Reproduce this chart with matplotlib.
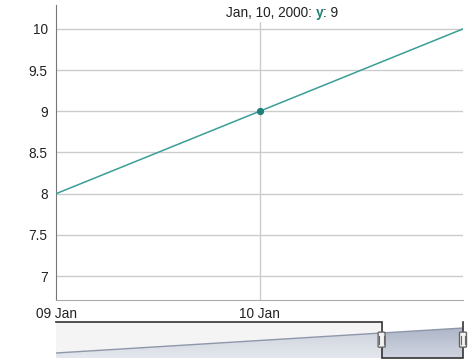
import numpy as np
import matplotlib
matplotlib.use("Agg")
import matplotlib.pyplot as plt
import matplotlib.dates as mdates
from matplotlib.patches import FancyBboxPatch
from matplotlib.colors import LinearSegmentedColormap
import matplotlib.transforms as mtrans
from datetime import datetime

plt.rcParams['font.family'] = ['Liberation Sans', 'DejaVu Sans']

# Daten
dates = [datetime(2000, 1, d) for d in range(1, 12)]
values = [0, 1, 2, 3, 4, 5, 6, 7, 8, 9, 10]
view_start = datetime(2000, 1, 9)
view_end = datetime(2000, 1, 11)
hover_date = datetime(2000, 1, 10)
hover_value = 9
y_ticks = [7, 7.5, 8, 8.5, 9, 9.5, 10]
y_labels = ['7', '7.5', '8', '8.5', '9', '9.5', '10']
x_ticks = [datetime(2000, 1, 9), datetime(2000, 1, 10)]
x_labels = ['09 Jan', '10 Jan']

line_col = '#3a9e96'
W, H = 474, 362
fig = plt.figure(figsize=(W / 100, H / 100), dpi=100)

# Hauptdiagramm
ax = fig.add_axes([56 / W, (H - 300) / H, (463 - 56) / W, (300 - 5) / H])
ax.plot(dates, values, color=line_col, lw=1.1, zorder=3)
ax.axvline(hover_date, color='#cccccc', lw=1, zorder=2)
ax.plot([hover_date], [hover_value], 'o', color='#1f7f78', ms=4.2, zorder=4)
ax.set_xlim(view_start, view_end)
ax.set_ylim(6.71, 10.29)
ax.set_yticks(y_ticks)
ax.set_yticklabels(y_labels)
ax.set_xticks(x_ticks)
ax.set_xticklabels(x_labels)
ax.grid(axis='y', color='#cccccc', lw=1)
ax.set_axisbelow(True)
for s in ['top', 'right']:
    ax.spines[s].set_visible(False)
ax.spines['left'].set_color('#777777')
ax.spines['bottom'].set_color('#aaaaaa')
ax.tick_params(axis='y', length=0, pad=6, labelsize=9.8, labelcolor='#222222')
ax.tick_params(axis='x', length=0, pad=5, labelsize=9.8, labelcolor='#222222')

# Tooltip
ty = 1 - 13 / H
fig.patches.append(plt.Rectangle((228 / W, 1 - 21 / H), 114 / W, 16 / H,
                                 transform=fig.transFigure, color='white',
                                 zorder=1))
fig.text(316 / W, ty, 'Jan, 10, 2000: ', ha='right', va='center',
         fontsize=9.8, color='#222222')
fig.text(316 / W, ty, 'y', ha='left', va='center', fontsize=9.8,
         color='#1f7f78', fontweight='bold')
fig.text(323 / W, ty, ': 9', ha='left', va='center', fontsize=9.8,
         color='#222222')

# Navigator
nav = fig.add_axes([56 / W, (H - 358) / H, (463 - 56) / W, (358 - 322) / H])
nav.axis('off')
nav.axvspan(dates[0], view_start, color='#f4f4f4', zorder=0)
x_num = mdates.date2num(dates)
grad = np.linspace(0, 1, 50).reshape(-1, 1)
poly = nav.fill_between(dates, values, -2, color='none', zorder=1)
cmap = LinearSegmentedColormap.from_list('g', ['#e4e7ed', '#c9ced9'])
img = nav.imshow(grad, extent=[x_num[0], x_num[-1], 12.4, -2], aspect='auto',
                 cmap=cmap, zorder=1)
img.set_clip_path(poly.get_paths()[0], transform=nav.transData)
sel = [d >= view_start for d in dates]
poly2 = nav.fill_between(dates, values, -2, where=sel, color='none', zorder=2)
cmap2 = LinearSegmentedColormap.from_list('g2', ['#d0d5e0', '#a8b0c3'])
img2 = nav.imshow(grad, extent=[x_num[0], x_num[-1], 12.4, -2], aspect='auto',
                  cmap=cmap2, zorder=2)
img2.set_clip_path(poly2.get_paths()[0], transform=nav.transData)
nav.plot(dates, values, color='#8e97aa', lw=1, zorder=3)
nav.set_xlim(dates[0], dates[-1])
nav.set_ylim(-2, 12.4)

# Umriss
nav.plot([dates[0], view_start, view_start, view_end, view_end],
         [12.4, 12.4, -2, -2, 12.4], color='#333333', lw=1.2, zorder=5,
         clip_on=False, solid_joinstyle='miter')

# Griffe
tr = mtrans.blended_transform_factory(nav.transData, nav.transAxes)
hw = 7 * 10 / 407
for d in [view_start, view_end]:
    xd = mdates.date2num(d)
    nav.add_patch(FancyBboxPatch((xd - hw / 2, 0.3), hw, 0.42,
                                 boxstyle='round,pad=0,rounding_size=0.05',
                                 transform=tr, fc='#f2f2f2', ec='#666666',
                                 lw=1, zorder=6, clip_on=False,
                                 mutation_aspect=0.4))
    for off in [-0.06, 0.06]:
        nav.plot([xd + off, xd + off], [0.4, 0.62], transform=tr,
                 color='#666666', lw=0.8, zorder=7, clip_on=False)

fig.savefig('out.png', dpi=100)
